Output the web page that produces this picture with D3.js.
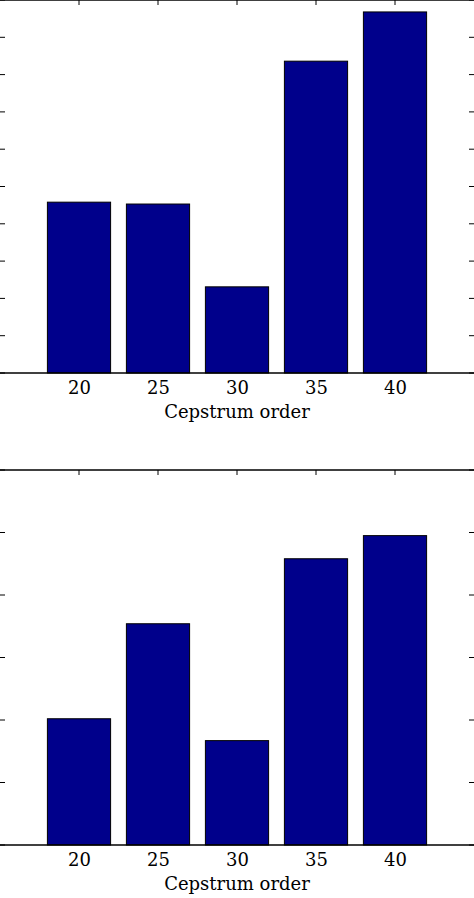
<!DOCTYPE html>
<html>
<head>
<meta charset="utf-8">
<script src="https://cdn.jsdelivr.net/npm/d3@7"></script>
<style>
  body { margin: 0; background: #fff; }
  text { font-family: "DejaVu Serif", "Liberation Serif", serif; }
</style>
</head>
<body>
<div id="chart"></div>
<script>
const orders = [20, 25, 30, 35, 40];
const topValues = [4.58, 4.53, 2.31, 8.36, 9.68];
const bottomValues = [2.02, 3.54, 1.67, 4.58, 4.95];
const topYTicks = d3.range(0, 11, 1);
const bottomYTicks = d3.range(0, 7, 1);
const xLabel = "Cepstrum order";

const W = 474, H = 898;
const svg = d3.select("#chart").append("svg").attr("width", W).attr("height", H);

function drawPanel(top, bottom, values, yMax, yTicks) {
  const g = svg.append("g");
  const x = d3.scaleLinear().domain([15, 45]).range([0, W]);
  const y = d3.scaleLinear().domain([0, yMax]).range([bottom, top]);
  const bw = x(19) - x(15);

  g.selectAll("rect.bar")
    .data(orders)
    .enter()
    .append("rect")
    .attr("class", "bar")
    .attr("x", (d) => x(d) - bw / 2)
    .attr("width", bw)
    .attr("y", (d, i) => y(values[i]))
    .attr("height", (d, i) => y(0) - y(values[i]))
    .attr("fill", "#00008b")
    .attr("stroke", "#000")
    .attr("stroke-width", 1);

  // frame
  g.append("line").attr("x1", 0).attr("x2", W).attr("y1", top).attr("y2", top)
    .attr("stroke", "#000").attr("stroke-width", 1.5);
  g.append("line").attr("x1", 0).attr("x2", W).attr("y1", bottom).attr("y2", bottom)
    .attr("stroke", "#000").attr("stroke-width", 1.5);

  // inward ticks on all sides
  const tl = 5;
  orders.forEach((o) => {
    g.append("line").attr("x1", x(o)).attr("x2", x(o)).attr("y1", top).attr("y2", top + tl).attr("stroke", "#000");
  });
  yTicks.forEach((t) => {
    g.append("line").attr("x1", 0).attr("x2", tl).attr("y1", y(t)).attr("y2", y(t)).attr("stroke", "#000");
    g.append("line").attr("x1", W - tl).attr("x2", W).attr("y1", y(t)).attr("y2", y(t)).attr("stroke", "#000");
  });

  const xAxis = g.append("g").attr("transform", `translate(0,${bottom})`)
    .call(d3.axisBottom(x).tickValues(orders).tickSize(0).tickPadding(8));
  xAxis.select(".domain").remove();
  xAxis.selectAll("text").style("font-size", "18px").attr("fill", "#000");

  g.append("text")
    .attr("x", W / 2)
    .attr("y", bottom + 45)
    .attr("text-anchor", "middle")
    .style("font-size", "18px")
    .text(xLabel);
}

drawPanel(0, 373, topValues, 10, topYTicks);
drawPanel(470, 845, bottomValues, 6, bottomYTicks);
</script>
</body>
</html>
